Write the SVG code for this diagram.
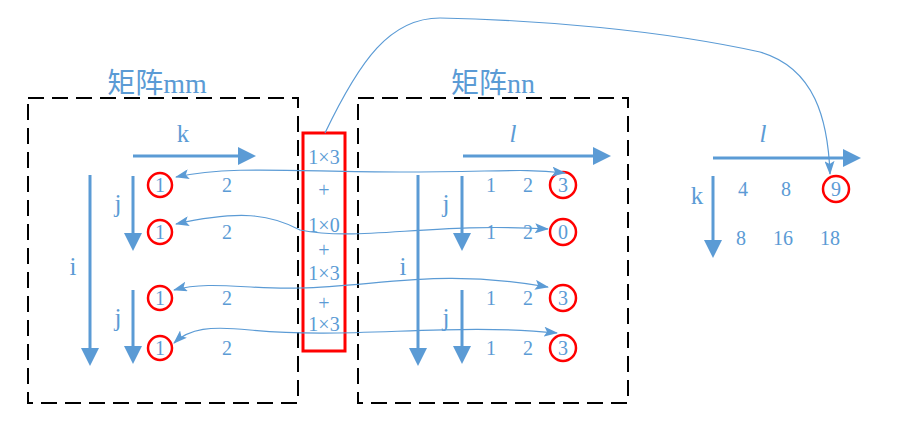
<svg xmlns="http://www.w3.org/2000/svg" width="911" height="426" viewBox="0 0 911 426">
<style>
text{font-family:"Liberation Serif","Noto Sans CJK SC",serif;fill:#5b9bd5;text-anchor:middle}
.n{font-size:20px}.b{font-size:25px}.t{font-size:28px}
.box{fill:none;stroke:#000;stroke-width:2;stroke-dasharray:16,8}
.ax{stroke:#5b9bd5;stroke-width:3;fill:none;marker-end:url(#a)}
.c{fill:none;stroke:#f00;stroke-width:2.5}
.cu{fill:none;stroke:#5b9bd5;stroke-width:1.2;marker-start:url(#s);marker-end:url(#e)}
</style>
<defs>
<marker id="a" markerWidth="6" markerHeight="6" refX="4" refY="3" orient="auto" markerUnits="strokeWidth"><path d="M0,0L6,3L0,6Z" fill="#5b9bd5"/></marker>
<marker id="e" markerWidth="14" markerHeight="10" refX="13" refY="5" orient="auto" markerUnits="userSpaceOnUse"><path d="M0,0L14,5L0,10L3,5Z" fill="#5b9bd5"/></marker>
<marker id="s" markerWidth="14" markerHeight="10" refX="1" refY="5" orient="auto" markerUnits="userSpaceOnUse"><path d="M14,0L0,5L14,10L11,5Z" fill="#5b9bd5"/></marker>
</defs>
<g id="mm">
<text class="t" x="157" y="93">矩阵mm</text>
<rect class="box" x="28" y="98" width="270" height="305"/>
<text class="b" x="183" y="142">k</text>
<path class="ax" d="M133,156H250"/>
<path class="ax" d="M90,175V360"/><text class="b" x="73" y="275">i</text>
<path class="ax" d="M133,176V245"/><text class="b" x="118" y="212">j</text>
<path class="ax" d="M133,290V358"/><text class="b" x="118" y="326">j</text>
<circle class="c" cx="160" cy="185" r="12"/><text class="n" x="160" y="192">1</text><text class="n" x="227" y="192">2</text>
<circle class="c" cx="160" cy="232" r="12"/><text class="n" x="160" y="239">1</text><text class="n" x="227" y="239">2</text>
<circle class="c" cx="160" cy="298" r="12"/><text class="n" x="160" y="305">1</text><text class="n" x="227" y="305">2</text>
<circle class="c" cx="160" cy="348" r="12"/><text class="n" x="160" y="355">1</text><text class="n" x="227" y="355">2</text>
</g>
<g id="nn">
<text class="t" x="493" y="93">矩阵nn</text>
<rect class="box" x="358" y="98" width="270" height="305"/>
<text class="b" x="513" y="142" font-style="italic">l</text>
<path class="ax" d="M463,156H605"/>
<path class="ax" d="M418,175V360"/><text class="b" x="403" y="275">i</text>
<path class="ax" d="M462,176V245"/><text class="b" x="446" y="212">j</text>
<path class="ax" d="M462,290V358"/><text class="b" x="446" y="326">j</text>
<text class="n" x="491" y="192">1</text><text class="n" x="528" y="192">2</text><circle class="c" cx="563" cy="185" r="13"/><text class="n" x="563" y="192">3</text>
<text class="n" x="491" y="239">1</text><text class="n" x="528" y="239">2</text><circle class="c" cx="563" cy="232" r="13"/><text class="n" x="563" y="239">0</text>
<text class="n" x="491" y="305">1</text><text class="n" x="528" y="305">2</text><circle class="c" cx="563" cy="298" r="13"/><text class="n" x="563" y="305">3</text>
<text class="n" x="491" y="355">1</text><text class="n" x="528" y="355">2</text><circle class="c" cx="563" cy="348" r="13"/><text class="n" x="563" y="355">3</text>
</g>
<g id="sum">
<rect x="303" y="133" width="42" height="218" fill="none" stroke="#f00" stroke-width="3"/>
<text class="n" x="324" y="164">1×3</text>
<text class="n" x="324" y="197">+</text>
<text class="n" x="324" y="232">1×0</text>
<text class="n" x="324" y="257">+</text>
<text class="n" x="324" y="280">1×3</text>
<text class="n" x="324" y="310">+</text>
<text class="n" x="324" y="331">1×3</text>
</g>
<g id="result">
<text class="b" x="763" y="142" font-style="italic">l</text>
<path class="ax" d="M713,158H855"/>
<text class="b" x="697" y="204">k</text>
<path class="ax" d="M713,176V252"/>
<text class="n" x="743" y="196">4</text><text class="n" x="786" y="196">8</text>
<circle class="c" cx="836" cy="189" r="13"/><text class="n" x="836" y="196">9</text>
<text class="n" x="741" y="245">8</text><text class="n" x="783" y="245">16</text><text class="n" x="830" y="245">18</text>
</g>
<g id="connectors">
<path class="cu" d="M176,177C230,165 300,172 400,172S520,168 565,173"/>
<path class="cu" d="M176,224C240,210 270,214 300,230C360,242 430,222 548,229"/>
<path class="cu" d="M174,290C210,280 250,290 300,288C380,286 440,268 548,287"/>
<path class="cu" d="M174,343C190,328 210,326 250,330C350,340 450,322 557,333"/>
<path d="M325,133C360,60 390,18 440,18C540,20 660,30 760,52C815,68 828,120 830,174" fill="none" stroke="#5b9bd5" stroke-width="1.2" marker-end="url(#e)"/>
</g>
</svg>
